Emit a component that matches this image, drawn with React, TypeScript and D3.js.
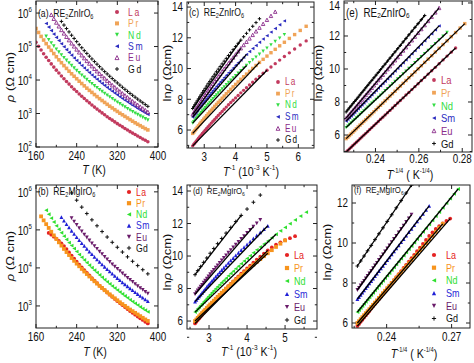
import React from 'react';
import * as d3 from 'd3';

// ---------------- data ----------------
// measurement temperatures (K), from 380 K downward
const TEMPS_5 = [380, 375, 370, 365, 360, 355, 350, 345, 340, 335, 330, 325, 320, 315, 310, 305, 300, 295, 290, 285, 280, 275, 270, 265, 260, 255, 250, 245, 240, 235, 230, 225, 220, 215, 210, 205, 200, 195, 190, 185, 180, 175, 170, 165, 160];
const TEMPS_10 = [380, 370, 360, 350, 340, 330, 320, 310, 300, 290, 280, 270, 260, 250, 240, 230];
const ELEMENTS = ['La', 'Pr', 'Nd', 'Sm', 'Eu', 'Gd'];

// ln(rho / Ohm cm) of RE2ZnIrO6 at TEMPS_5
const ZN_LA = [4.97, 5.07, 5.16, 5.26, 5.36, 5.46, 5.56, 5.66, 5.77, 5.88, 5.99, 6.10, 6.21, 6.33, 6.45, 6.57, 6.69, 6.82, 6.95, 7.08, 7.21, 7.35, 7.49, 7.64, 7.79, 7.94, 8.09, 8.25, 8.42, 8.58, 8.75, 8.93, 9.11, 9.30, 9.49, 9.69, 9.89, 10.10, 10.32, 10.55, 10.78, 11.02, 11.27, 11.53, 11.80];
const ZN_PR = [5.78, 5.87, 5.97, 6.07, 6.17, 6.27, 6.38, 6.49, 6.60, 6.71, 6.82, 6.93, 7.05, 7.17, 7.29, 7.41, 7.54, 7.67, 7.80, 7.93, 8.07, 8.21, 8.36, 8.50, 8.65, 8.81, 8.97, 9.13, 9.30, 9.47, 9.64, 9.82, 10.01, 10.20, 10.40, 10.60, 10.81, 11.03, 11.25, 11.48, 11.71, 11.96, 12.21, 12.48, 12.75];
const ZN_ND = [6.45, 6.54, 6.64, 6.73, 6.83, 6.93, 7.03, 7.13, 7.24, 7.35, 7.46, 7.57, 7.68, 7.80, 7.92, 8.04, 8.16, 8.28, 8.41, 8.54, 8.68, 8.81, 8.95, 9.09, 9.24, 9.39, 9.54, 9.70, 9.86, 10.03, 10.20, 10.38, 10.56, 10.74, 10.93, 11.13, 11.33, 11.54, 11.76, 11.98, 12.21];
const ZN_SM = [6.85, 6.95, 7.05, 7.15, 7.26, 7.37, 7.48, 7.59, 7.71, 7.82, 7.94, 8.06, 8.19, 8.31, 8.44, 8.57, 8.70, 8.84, 8.98, 9.12, 9.26, 9.41, 9.56, 9.72, 9.88, 10.04, 10.21, 10.38, 10.55, 10.73, 10.92, 11.11, 11.30, 11.50, 11.71, 11.92, 12.14, 12.37, 12.61, 12.85, 13.10];
const ZN_EU = [7.02, 7.14, 7.26, 7.38, 7.50, 7.62, 7.75, 7.88, 8.02, 8.15, 8.29, 8.43, 8.57, 8.71, 8.86, 9.01, 9.17, 9.33, 9.49, 9.65, 9.82, 9.99, 10.17, 10.35, 10.53, 10.72, 10.92, 11.12, 11.32, 11.53, 11.74, 11.96, 12.19, 12.42, 12.66, 12.91, 13.17, 13.43, 13.70];
const ZN_GD = [7.40, 7.52, 7.65, 7.77, 7.90, 8.03, 8.16, 8.29, 8.43, 8.57, 8.71, 8.86, 9.01, 9.16, 9.31, 9.47, 9.63, 9.79, 9.96, 10.13, 10.30, 10.48, 10.66, 10.85, 11.04, 11.23, 11.43, 11.64, 11.85, 12.07, 12.29, 12.52, 12.75, 12.99, 13.24];

// ln(rho / Ohm cm) of RE2MgIrO6 (Gd at TEMPS_10, the rest at TEMPS_5)
const MG_LA = [5.85, 5.95, 6.06, 6.16, 6.27, 6.38, 6.49, 6.60, 6.72, 6.84, 6.96, 7.08, 7.20, 7.33, 7.46, 7.59, 7.72, 7.86, 8.00, 8.14, 8.29, 8.44, 8.59, 8.75, 8.91, 9.07, 9.24, 9.41, 9.59, 9.77, 9.96, 10.15, 10.35, 10.53, 10.70, 10.84, 10.98, 11.10, 11.22, 11.33];
const MG_PR = [6.00, 6.09, 6.19, 6.29, 6.39, 6.49, 6.59, 6.69, 6.80, 6.91, 7.02, 7.13, 7.25, 7.37, 7.49, 7.61, 7.74, 7.86, 7.99, 8.12, 8.26, 8.40, 8.54, 8.69, 8.84, 8.99, 9.15, 9.31, 9.47, 9.64, 9.81, 9.99, 10.17, 10.36, 10.56, 10.76, 10.96, 11.18, 11.40, 11.63, 11.86, 12.09, 12.33];
const MG_ND = [6.55, 6.65, 6.75, 6.85, 6.96, 7.06, 7.17, 7.28, 7.40, 7.51, 7.63, 7.75, 7.87, 7.99, 8.11, 8.24, 8.37, 8.50, 8.64, 8.78, 8.93, 9.07, 9.22, 9.37, 9.53, 9.69, 9.85, 10.02, 10.20, 10.38, 10.56, 10.74, 10.93, 11.13, 11.34, 11.55, 11.76, 11.99, 12.22, 12.46, 12.70];
const MG_SM = [7.20, 7.30, 7.41, 7.52, 7.63, 7.74, 7.86, 7.98, 8.10, 8.22, 8.34, 8.47, 8.60, 8.73, 8.86, 9.00, 9.14, 9.28, 9.43, 9.58, 9.73, 9.88, 10.04, 10.20, 10.37, 10.54, 10.71, 10.89, 11.08, 11.27, 11.46, 11.66, 11.86, 12.07, 12.29];
const MG_EU = [7.65, 7.76, 7.88, 7.99, 8.11, 8.23, 8.36, 8.48, 8.61, 8.74, 8.88, 9.01, 9.15, 9.29, 9.43, 9.58, 9.73, 9.88, 10.04, 10.20, 10.36, 10.53, 10.70, 10.87, 11.05, 11.23, 11.42, 11.61, 11.81, 12.01, 12.22];
const MG_GD = [8.85, 9.10, 9.35, 9.61, 9.88, 10.17, 10.46, 10.76, 11.08, 11.41, 11.76, 12.12, 12.50, 12.89, 13.31, 13.75];

// lowest temperature shown in a panel, per element
const E_SHOW_TMIN = [170, 160, 180, 190, 190, 210];
const D_SHOW_TMIN = [190, 200, 180, 220, 230, 230];
const F_SHOW_TMIN = [190, 200, 180, 220, 250, 250];
// lowest temperature of the fitted straight lines
const C_FIT_TMIN = [200, 210, 230, 230, 240, 240];
const D_FIT_TMIN = [220, 220, 210, 220, 240, 260];

// tick values
const T_TICKS = [160, 240, 320, 400];
const T_MINOR = [200, 280, 360];
const RHO_TICKS_A = [1e2, 1e3, 1e4, 1e5, 1e6];
const RHO_TICKS_B = [1e3, 1e4, 1e5, 1e6];
const INV_TICKS_C = [3, 4, 5, 6];
const INV_TICKS_D = [3, 4, 5];
const INV_MINOR = [2.5, 3.5, 4.5, 5.5];
const LN_TICKS = [6, 8, 10, 12, 14];
const LN_MINOR = [5, 7, 9, 11, 13];
const LN_TICKS_F = [6, 8, 10, 12];
const LN_MINOR_F = [7, 9, 11];
const Q_TICKS_E = [0.24, 0.26, 0.28];
const Q_MINOR_E = [0.23, 0.25, 0.27];
const Q_TICKS_F = [0.24, 0.27];
const Q_MINOR_F = [0.225, 0.255];

// ---------------- styles ----------------
const ZN_COLORS = ['#c23a5e', '#f0a458', '#33dd44', '#2b2bbf', '#8b2d8b', '#111111'];
const MG_COLORS = ['#e52323', '#f7941d', '#2fe02f', '#1f1fd6', '#6a1b6a', '#111111'];
const ZN_SHAPES = ['circle', 'square', 'triDown', 'triLeft', 'triUpOpen', 'plus'];
const MG_SHAPES = ['circle', 'square', 'triLeft', 'triUp', 'triDown', 'plus'];

const FONT = '"Liberation Sans", Arial, Helvetica, sans-serif';
const SX = 0.82;

function Txt(props: any) {
  const { x, y, size = 12, anchor = 'start', fill = '#111', rotate = 0, ls = 0, children } = props;
  const tr = rotate
    ? `translate(${x},${y}) rotate(${rotate}) scale(1,${SX})`
    : `translate(${x},${y}) scale(${SX},1)`;
  return (
    <g transform={tr}>
      <text x={0} y={0} fontSize={size} textAnchor={anchor} dominantBaseline="central" fill={fill}
        letterSpacing={ls} fontFamily={FONT}>{children}</text>
    </g>
  );
}

function Marker({ shape, x, y, s, color }: any) {
  const h = s / 2;
  switch (shape) {
    case 'circle':
      return <circle cx={x} cy={y} r={h} fill={color} />;
    case 'square':
      return <rect x={x - h} y={y - h} width={s} height={s} fill={color} />;
    case 'triUp':
      return <path d={`M${x},${y - h}L${x + h},${y + h}L${x - h},${y + h}Z`} fill={color} />;
    case 'triUpOpen':
      return <path d={`M${x},${y - h}L${x + h},${y + h}L${x - h},${y + h}Z`} fill="none" stroke={color} strokeWidth={0.9} />;
    case 'triDown':
      return <path d={`M${x},${y + h}L${x + h},${y - h}L${x - h},${y - h}Z`} fill={color} />;
    case 'triLeft':
      return <path d={`M${x - h},${y}L${x + h},${y - h}L${x + h},${y + h}Z`} fill={color} />;
    case 'plus':
    default:
      return (
        <g stroke={color} strokeWidth={1}>
          <line x1={x - h} x2={x + h} y1={y} y2={y} />
          <line x1={x} x2={x} y1={y - h} y2={y + h} />
        </g>
      );
  }
}

const Sup = ({ children, size = 8 }: any) => <tspan dy={-5} fontSize={size}>{children}</tspan>;
const Down = ({ children }: any) => <tspan dy={5}>{children}</tspan>;

function Formula({ tag, metal, size }: any) {
  return (
    <>
      <tspan>{tag}{'\u00a0\u00a0'}RE</tspan>
      <tspan dy={3} fontSize={size * 0.65}>2</tspan>
      <tspan dy={-3}>{metal}IrO</tspan>
      <tspan dy={3} fontSize={size * 0.65}>6</tspan>
    </>
  );
}

const idT = (T: number) => T;
const invT = (T: number) => 1000 / T;
const quarT = (T: number) => Math.pow(T, -0.25);
const expLn = (v: number) => Math.exp(v);
const idLn = (v: number) => v;

const ZN_DATA = [
  { T: TEMPS_5, ln: ZN_LA }, { T: TEMPS_5, ln: ZN_PR }, { T: TEMPS_5, ln: ZN_ND },
  { T: TEMPS_5, ln: ZN_SM }, { T: TEMPS_5, ln: ZN_EU }, { T: TEMPS_5, ln: ZN_GD },
];
const MG_DATA = [
  { T: TEMPS_5, ln: MG_LA }, { T: TEMPS_5, ln: MG_PR }, { T: TEMPS_5, ln: MG_ND },
  { T: TEMPS_5, ln: MG_SM }, { T: TEMPS_5, ln: MG_EU }, { T: TEMPS_10, ln: MG_GD },
];

const PANELS: any[] = [
  {
    id: 'a', left: 36, right: 158, top: 1, bottom: 147, xDomain: [160, 400], yLog: true, yDomain: [1e2, Math.pow(10, 6.36)],
    fx: idT, fy: expLn, data: ZN_DATA, colors: ZN_COLORS, shapes: ZN_SHAPES, ms: 3.6, tickDy: 8.5,
    xTicks: T_TICKS, xMinor: T_MINOR, yTicks: RHO_TICKS_A, yMinor: [], xFmt: (v: number) => `${v}`,
    title: { x: 38, y: 13, size: 10.5, tag: '(a)', metal: 'Zn' },
    legend: { mx: 117, tx: 128, y0: 12, dy: 11.4, size: 10.5, ls: 2.2 },
    xLabel: { kind: 'T', x: 94, y: 170 }, yLabel: { kind: 'rho', x: 10, y: 77 },
  },
  {
    id: 'b', left: 36, right: 158, top: 185, bottom: 328, xDomain: [160, 400], yLog: true, yDomain: [Math.pow(10, 2.42), Math.pow(10, 6.18)],
    fx: idT, fy: expLn, data: MG_DATA, colors: MG_COLORS, shapes: MG_SHAPES, ms: 3.8, tickDy: 8.5,
    xTicks: T_TICKS, xMinor: T_MINOR, yTicks: RHO_TICKS_B, yMinor: [], xFmt: (v: number) => `${v}`,
    title: { x: 38, y: 191, size: 10.5, tag: '(b)', metal: 'Mg' },
    legend: { mx: 129, tx: 136, y0: 192, dy: 11.2, size: 10.5, ls: 0.5 },
    xLabel: { kind: 'T', x: 95, y: 352 }, yLabel: { kind: 'rho', x: 10, y: 256 },
  },
  {
    id: 'c', left: 187, right: 314, top: 2, bottom: 148, xDomain: [2.45, 6.5], yDomain: [4.83, 14.33],
    fx: invT, fy: idLn, data: ZN_DATA, colors: ZN_COLORS, shapes: ZN_SHAPES, ms: 3.4, fitTmin: C_FIT_TMIN, tickDy: 8.5,
    xTicks: INV_TICKS_C, xMinor: INV_MINOR, yTicks: LN_TICKS, yMinor: LN_MINOR, xFmt: (v: number) => `${v}`,
    title: { x: 189, y: 12, size: 10.5, tag: '(c)', metal: 'Zn' },
    legend: { mx: 278, tx: 285, y0: 82, dy: 11.6, size: 10, ls: 1.5 },
    xLabel: { kind: 'inv', x: 251, y: 172 }, yLabel: { kind: 'ln', x: 167, y: 73 },
  },
  {
    id: 'd', left: 187, right: 317, top: 185, bottom: 329, xDomain: [2.42, 5.84], yDomain: [5.51, 14.37],
    fx: invT, fy: idLn, data: MG_DATA, colors: MG_COLORS, shapes: MG_SHAPES, ms: 3.8, showTmin: D_SHOW_TMIN, fitTmin: D_FIT_TMIN, tickDy: 8.5,
    xTicks: INV_TICKS_D, xMinor: INV_MINOR, yTicks: LN_TICKS, yMinor: LN_MINOR, xFmt: (v: number) => `${v}`,
    title: { x: 193, y: 191, size: 9.5, tag: '(d)', metal: 'Mg' },
    legend: { mx: 287, tx: 294, y0: 255, dy: 13, size: 11, ls: 0 },
    xLabel: { kind: 'inv', x: 249, y: 352 }, yLabel: { kind: 'ln', x: 167, y: 262 },
  },
  {
    id: 'e', left: 344, right: 472, top: 1, bottom: 152, xDomain: [0.2255, 0.2845], yDomain: [4.97, 14.12],
    fx: quarT, fy: idLn, data: ZN_DATA, colors: ZN_COLORS, shapes: ZN_SHAPES, ms: 3.4, showTmin: E_SHOW_TMIN, fitTmin: E_SHOW_TMIN, tickDy: 7,
    xTicks: Q_TICKS_E, xMinor: Q_MINOR_E, yTicks: LN_TICKS, yMinor: LN_MINOR, xFmt: (v: number) => v.toFixed(2),
    title: { x: 346, y: 13, size: 12, tag: '(e)', metal: 'Zn' },
    legend: { mx: 434, tx: 441, y0: 80, dy: 12.7, size: 11.5, ls: 0 },
    xLabel: { kind: 'quar', x: 410, y: 175 }, yLabel: { kind: 'ln', x: 318, y: 73 },
  },
  {
    id: 'f', left: 352, right: 470, top: 185, bottom: 328, xDomain: [0.224, 0.2785], yDomain: [5.75, 12.9],
    fx: quarT, fy: idLn, data: MG_DATA, colors: MG_COLORS, shapes: MG_SHAPES, ms: 3.8, showTmin: F_SHOW_TMIN, fitTmin: F_SHOW_TMIN, tickDy: 8.5,
    xTicks: Q_TICKS_F, xMinor: Q_MINOR_F, yTicks: LN_TICKS_F, yMinor: LN_MINOR_F, xFmt: (v: number) => v.toFixed(2),
    title: { x: 354, y: 190, size: 9.5, tag: '(f)', metal: 'Mg' },
    legend: { mx: 434, tx: 446, y0: 255, dy: 12.7, size: 11, ls: 0 },
    xLabel: { kind: 'quar', x: 414, y: 354 }, yLabel: { kind: 'ln', x: 327, y: 252 },
  },
];

function XLabel({ kind, x, y }: any) {
  if (kind === 'T') {
    return <Txt x={x} y={y} size={13} anchor="middle"><tspan fontStyle="italic">T</tspan>{'\u00a0(K)'}</Txt>;
  }
  if (kind === 'inv') {
    return (
      <Txt x={x} y={y} size={13} anchor="middle">
        <tspan fontStyle="italic">T</tspan><Sup>-1</Sup><Down>{'\u00a0(10'}</Down><Sup>-3</Sup><Down>{'\u00a0K'}</Down><Sup>-1</Sup><Down>)</Down>
      </Txt>
    );
  }
  return (
    <Txt x={x} y={y} size={13} anchor="middle">
      <tspan fontStyle="italic">T</tspan><Sup size={7}>-1/4</Sup><Down>{'\u00a0(\u00a0K'}</Down><Sup size={7}>-1/4</Sup><Down>)</Down>
    </Txt>
  );
}

function YLabel({ kind, x, y }: any) {
  if (kind === 'rho') {
    return <Txt x={x} y={y} size={13} anchor="middle" rotate={-90}><tspan fontStyle="italic">ρ</tspan>{'\u00a0(Ω\u00a0cm)'}</Txt>;
  }
  return <Txt x={x} y={y} size={13} anchor="middle" rotate={-90}>ln<tspan fontStyle="italic">ρ</tspan>{'\u00a0(Ωcm)'}</Txt>;
}

function Panel({ cfg }: any) {
  const { left, right, top, bottom } = cfg;
  const xs = d3.scaleLinear().domain(cfg.xDomain).range([left, right]);
  const ys: any = (cfg.yLog ? d3.scaleLog() : d3.scaleLinear()).domain(cfg.yDomain).range([bottom, top]);
  const clipId = `clip-${cfg.id}`;
  const TL = 4;
  const TLm = 2.2;

  const series = cfg.data.map((ser: any, i: number) => {
    const lnArr: number[] = ser.ln;
    const temps: number[] = ser.T;
    const tmin = cfg.showTmin ? cfg.showTmin[i] : 0;
    const pts = lnArr
      .map((v, k) => ({ T: temps[k], v }))
      .filter((p) => p.T >= tmin)
      .map((p) => [xs(cfg.fx(p.T)), ys(cfg.fy(p.v))]);
    let fit: number[][] | null = null;
    if (cfg.fitTmin) {
      let j = temps.indexOf(cfg.fitTmin[i]);
      if (j < 0 || j > lnArr.length - 1) j = lnArr.length - 1;
      fit = [0, j].map((k) => [xs(cfg.fx(temps[k])), ys(cfg.fy(lnArr[k]))]);
    }
    return { pts, fit };
  });

  const line = d3.line();

  return (
    <g>
      <defs>
        <clipPath id={clipId}><rect x={left} y={top} width={right - left} height={bottom - top} /></clipPath>
      </defs>
      <g clipPath={`url(#${clipId})`}>
        {series.map((s: any, i: number) => (
          <g key={`s${i}`}>
            {s.pts.map((p: number[], k: number) => (
              <Marker key={k} shape={cfg.shapes[i]} x={p[0]} y={p[1]} s={cfg.ms} color={cfg.colors[i]} />
            ))}
          </g>
        ))}
        {series.map((s: any, i: number) => s.fit && (
          <path key={`f${i}`} d={line(s.fit as any) || ''} stroke="#000" strokeWidth={1.3} fill="none" />
        ))}
      </g>
      <rect x={left} y={top} width={right - left} height={bottom - top} fill="none" stroke="#222" strokeWidth={1} />
      <g stroke="#222" strokeWidth={1}>
        {cfg.xTicks.map((v: number) => {
          const x = xs(v);
          return (
            <g key={`xt${v}`}>
              <line x1={x} x2={x} y1={bottom} y2={bottom - TL} />
              <line x1={x} x2={x} y1={top} y2={top + TL} />
            </g>
          );
        })}
        {cfg.xMinor.map((v: number) => {
          const x = xs(v);
          return (
            <g key={`xm${v}`}>
              <line x1={x} x2={x} y1={bottom} y2={bottom - TLm} />
              <line x1={x} x2={x} y1={top} y2={top + TLm} />
            </g>
          );
        })}
        {cfg.yTicks.map((v: number) => {
          const y = ys(v);
          return (
            <g key={`yt${v}`}>
              <line x1={left} x2={left + TL} y1={y} y2={y} />
              <line x1={right} x2={right - TL} y1={y} y2={y} />
            </g>
          );
        })}
        {cfg.yMinor.map((v: number) => {
          const y = ys(v);
          return (
            <g key={`ym${v}`}>
              <line x1={left} x2={left + TLm} y1={y} y2={y} />
              <line x1={right} x2={right - TLm} y1={y} y2={y} />
            </g>
          );
        })}
      </g>
      {cfg.xTicks.map((v: number) => (
        <Txt key={`xl${v}`} x={xs(v)} y={bottom + cfg.tickDy} size={12} anchor="middle">{cfg.xFmt(v)}</Txt>
      ))}
      {cfg.yTicks.map((v: number) => (
        cfg.yLog ? (
          <Txt key={`yl${v}`} x={left - 4} y={Math.max(ys(v) + 1, 6)} size={12} anchor="end">
            10<tspan dy={-5} fontSize={7.5}>{Math.round(Math.log10(v))}</tspan>
          </Txt>
        ) : (
          <Txt key={`yl${v}`} x={left - 4} y={Math.max(ys(v), 6)} size={12} anchor="end">{v}</Txt>
        )
      ))}
      <Txt x={cfg.title.x} y={cfg.title.y} size={cfg.title.size}>
        <Formula tag={cfg.title.tag} metal={cfg.title.metal} size={cfg.title.size} />
      </Txt>
      {ELEMENTS.map((el, i) => {
        const y = cfg.legend.y0 + i * cfg.legend.dy;
        return (
          <g key={`lg${el}`}>
            <Marker shape={cfg.shapes[i]} x={cfg.legend.mx} y={y} s={cfg.ms + 0.4} color={cfg.colors[i]} />
            <Txt x={cfg.legend.tx} y={y} size={cfg.legend.size} fill={cfg.colors[i]} ls={cfg.legend.ls}>{el}</Txt>
          </g>
        );
      })}
      <XLabel {...cfg.xLabel} />
      <YLabel {...cfg.yLabel} />
    </g>
  );
}

export default function App() {
  return (
    <svg width={474} height={363} viewBox="0 0 474 363"
      style={{ position: 'absolute', left: 0, top: 0, display: 'block', background: '#fff' }}>
      <rect x={0} y={0} width={474} height={363} fill="#fff" />
      {PANELS.map((p) => <Panel key={p.id} cfg={p} />)}
    </svg>
  );
}
